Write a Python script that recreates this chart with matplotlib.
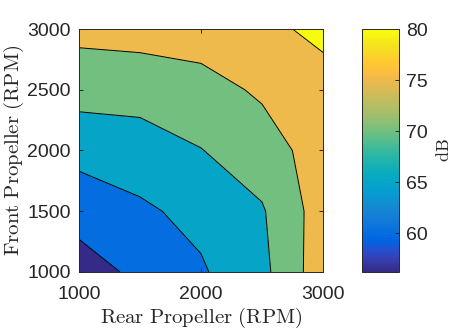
import numpy as np
import matplotlib
matplotlib.use('Agg')
import matplotlib.pyplot as plt
from matplotlib.colors import LinearSegmentedColormap, Normalize
from matplotlib.cm import ScalarMappable

# grid (RPM) and noise level (dB), rows = front propeller, cols = rear propeller
rear_rpm = [1000, 1500, 2000, 2500, 3000]
front_rpm = [1000, 1500, 2000, 2500, 3000]
noise_db = [
    [56.20, 61.85, 64.46, 68.65, 78.01],
    [63.26, 64.28, 66.25, 69.53, 77.46],
    [65.90, 67.33, 69.86, 72.60, 77.42],
    [72.33, 72.24, 73.11, 75.74, 79.92],
    [76.19, 76.76, 77.46, 79.95, 80.05],
]
levels = [60, 65, 70, 75, 80]
cbar_ticks = [60, 65, 70, 75, 80]

# MATLAB parula (subsampled)
PARULA = [
    (0.2081, 0.1663, 0.5292), (0.2123, 0.2138, 0.6270), (0.1959, 0.2645, 0.7279),
    (0.1253, 0.3242, 0.8303), (0.0117, 0.3875, 0.8820), (0.0165, 0.4266, 0.8786),
    (0.0498, 0.4586, 0.8641), (0.0723, 0.4887, 0.8467), (0.0793, 0.5200, 0.8312),
    (0.0641, 0.5570, 0.8240), (0.0343, 0.5966, 0.8199), (0.0239, 0.6287, 0.8038),
    (0.0228, 0.6535, 0.7768), (0.0384, 0.6743, 0.7436), (0.0843, 0.6928, 0.7062),
    (0.1453, 0.7098, 0.6646), (0.2178, 0.7250, 0.6193), (0.3022, 0.7376, 0.5712),
    (0.3953, 0.7459, 0.5244), (0.4871, 0.7491, 0.4840), (0.5709, 0.7485, 0.4494),
    (0.6473, 0.7456, 0.4188), (0.7184, 0.7411, 0.3905), (0.7858, 0.7356, 0.3633),
    (0.8507, 0.7299, 0.3360), (0.9139, 0.7258, 0.3063), (0.9739, 0.7314, 0.2666),
    (0.9990, 0.7653, 0.2164), (0.9880, 0.8066, 0.1794), (0.9697, 0.8481, 0.1475),
    (0.9589, 0.8949, 0.1132), (0.9661, 0.9514, 0.0755), (0.9763, 0.9831, 0.0538),
]
parula = LinearSegmentedColormap.from_list('parula', PARULA, N=256)

plt.rcParams['font.family'] = 'Liberation Sans'
plt.rcParams['mathtext.fontset'] = 'cm'
GRAY = (0.15, 0.15, 0.15)

X, Y = np.meshgrid(rear_rpm, front_rpm)
Z = np.array(noise_db)
zmin, zmax = Z.min(), 80.0
norm = Normalize(vmin=zmin, vmax=zmax)

# MATLAB-style fill: each band coloured by its lower bound
fill_colors = [parula(norm(zmin))] + [parula(norm(l)) for l in levels]

fig = plt.figure(figsize=(4.74, 3.33), dpi=100)
ax = fig.add_axes([0.1667, 0.1832, 0.5147, 0.7297])
ax.contourf(X, Y, Z, levels=levels, colors=fill_colors, extend='both')
ax.contour(X, Y, Z, levels=levels, colors='k', linewidths=0.7)

ax.set_xlim(1000, 3000)
ax.set_ylim(1000, 3000)
ax.set_xticks([1000, 2000, 3000])
ax.set_yticks([1000, 1500, 2000, 2500, 3000])
ax.tick_params(direction='in', length=3, width=0.7, top=True, right=True,
               labelsize=14, colors=GRAY)
ax.tick_params(axis='x', pad=10)
ax.tick_params(axis='y', pad=6)
for s in ax.spines.values():
    s.set_color(GRAY)
    s.set_linewidth(0.7)
ax.set_xlabel(r'$\mathrm{Rear\ Propeller\ (RPM)}$', fontsize=15, color=GRAY, labelpad=2)
ax.set_ylabel(r'$\mathrm{Front\ Propeller\ (RPM)}$', fontsize=15, color=GRAY, labelpad=1)

cax = fig.add_axes([0.7637, 0.1832, 0.078, 0.7297])
cb = fig.colorbar(ScalarMappable(norm=norm, cmap=parula), cax=cax)
cb.set_ticks(cbar_ticks)
cb.ax.tick_params(direction='in', length=3, width=0.7, labelsize=14, colors=GRAY, pad=5)
cb.outline.set_edgecolor(GRAY)
cb.outline.set_linewidth(0.7)
cb.set_label(r'$\mathrm{dB}$', fontsize=13, color=GRAY, labelpad=6)

fig.savefig('out.png', dpi=100)
